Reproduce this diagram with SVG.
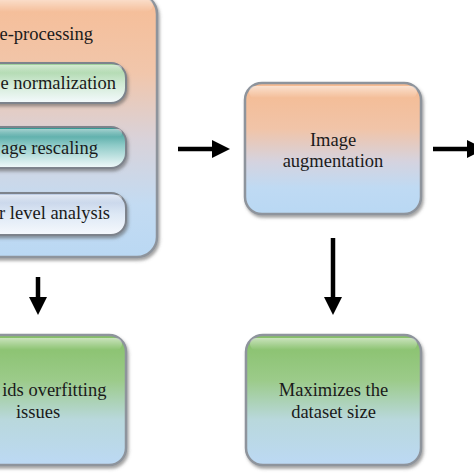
<svg xmlns="http://www.w3.org/2000/svg" width="474" height="474" viewBox="0 0 474 474">
<style>
  text{font-family:"Liberation Serif","Times New Roman",serif;font-size:18.5px;fill:#1a1a1a}
  .box{stroke:#8e949c;stroke-width:2.5}
  .pill{stroke:#7d838c;stroke-width:2}
  .gloss{fill:url(#gloss)}
  .conn{stroke:#000;stroke-width:4.5;fill:none}
</style>
<defs>
  <linearGradient id="gOrange" x1="0" y1="0" x2="0" y2="1">
    <stop offset="0" stop-color="#f5bb92"/>
    <stop offset="0.35" stop-color="#f1c4a8"/>
    <stop offset="0.6" stop-color="#d5d3df"/>
    <stop offset="0.8" stop-color="#bfdaf3"/>
    <stop offset="1" stop-color="#b9d8f3"/>
  </linearGradient>
  <linearGradient id="gBig" x1="0" y1="0" x2="0" y2="1">
    <stop offset="0" stop-color="#f6bd96"/>
    <stop offset="0.3" stop-color="#f1c6ab"/>
    <stop offset="0.55" stop-color="#d9d2d9"/>
    <stop offset="0.8" stop-color="#c3dbf2"/>
    <stop offset="1" stop-color="#bad8f3"/>
  </linearGradient>
  <linearGradient id="gGreen" x1="0" y1="0" x2="0" y2="1">
    <stop offset="0" stop-color="#86c068"/>
    <stop offset="0.35" stop-color="#9ccb8a"/>
    <stop offset="0.65" stop-color="#b9d8dc"/>
    <stop offset="1" stop-color="#bcd9f4"/>
  </linearGradient>
  <linearGradient id="gPillGreen" x1="0" y1="0" x2="0" y2="1">
    <stop offset="0" stop-color="#9ccf98"/>
    <stop offset="0.5" stop-color="#cfe9d3"/>
    <stop offset="1" stop-color="#f4fafd"/>
  </linearGradient>
  <linearGradient id="gPillTeal" x1="0" y1="0" x2="0" y2="1">
    <stop offset="0" stop-color="#2f9590"/>
    <stop offset="0.45" stop-color="#8fcbc8"/>
    <stop offset="1" stop-color="#f2fafb"/>
  </linearGradient>
  <linearGradient id="gPillBlue" x1="0" y1="0" x2="0" y2="1">
    <stop offset="0" stop-color="#bccbe4"/>
    <stop offset="0.5" stop-color="#dde8f5"/>
    <stop offset="1" stop-color="#f6f9fd"/>
  </linearGradient>
  <linearGradient id="gloss" x1="0" y1="0" x2="0" y2="1">
    <stop offset="0" stop-color="#ffffff" stop-opacity="0.55"/>
    <stop offset="1" stop-color="#ffffff" stop-opacity="0"/>
  </linearGradient>
  <filter id="shadow" x="-10%" y="-10%" width="130%" height="130%">
    <feDropShadow dx="1.5" dy="2.5" stdDeviation="1.8" flood-color="#555" flood-opacity="0.55"/>
  </filter>
  <marker id="head" viewBox="0 0 10 10" refX="0" refY="5" markerWidth="4" markerHeight="4" orient="auto" markerUnits="strokeWidth">
    <path d="M0,0 L10,5 L0,10 Z" fill="#000"/>
  </marker>
</defs>

<g id="node-preprocessing">
  <rect class="box" x="-80" y="-6" width="237" height="263" rx="20" fill="url(#gBig)" filter="url(#shadow)"/>
  <rect class="gloss" x="-76" y="-2" width="229" height="14" rx="8"/>
  <text x="93" y="39.5" text-anchor="end">e-processing</text>
</g>

<g id="node-normalization">
  <rect class="pill" x="-50" y="63" width="176" height="40" rx="15" fill="url(#gPillGreen)" filter="url(#shadow)"/>
  <rect class="gloss" x="-46" y="65" width="168" height="8" rx="4"/>
  <text x="116" y="89" text-anchor="end">e normalization</text>
</g>

<g id="node-rescaling">
  <rect class="pill" x="-50" y="127" width="176" height="41" rx="15" fill="url(#gPillTeal)" filter="url(#shadow)"/>
  <rect class="gloss" x="-46" y="129" width="168" height="8" rx="4"/>
  <text x="98" y="154" text-anchor="end">age rescaling</text>
</g>

<g id="node-level-analysis">
  <rect class="pill" x="-50" y="193" width="176" height="42" rx="15" fill="url(#gPillBlue)" filter="url(#shadow)"/>
  <rect class="gloss" x="-46" y="195" width="168" height="8" rx="4"/>
  <text x="110" y="219" text-anchor="end">r level analysis</text>
</g>

<g id="node-augmentation">
  <rect class="box" x="245" y="83" width="176" height="131" rx="17" fill="url(#gOrange)" filter="url(#shadow)"/>
  <rect class="gloss" x="249" y="86" width="168" height="12" rx="6"/>
  <text x="333" y="146" text-anchor="middle">Image</text>
  <text x="333" y="167" text-anchor="middle">augmentation</text>
</g>

<g id="node-overfitting">
  <rect class="box" x="-50" y="335" width="176" height="130" rx="17" fill="url(#gGreen)" filter="url(#shadow)"/>
  <rect class="gloss" x="-46" y="338" width="168" height="12" rx="6"/>
  <text x="106.5" y="396" text-anchor="end">ids overfitting</text>
  <text x="38" y="418" text-anchor="middle">issues</text>
</g>

<g id="node-dataset-size">
  <rect class="box" x="246" y="335" width="175" height="130" rx="17" fill="url(#gGreen)" filter="url(#shadow)"/>
  <rect class="gloss" x="250" y="338" width="167" height="12" rx="6"/>
  <text x="333.5" y="396" text-anchor="middle">Maximizes the</text>
  <text x="333.5" y="418" text-anchor="middle">dataset size</text>
</g>

<g id="connectors">
  <line class="conn" x1="178" y1="149" x2="212" y2="149" marker-end="url(#head)"/>
  <line class="conn" x1="433" y1="149" x2="467" y2="149" marker-end="url(#head)"/>
  <line class="conn" x1="38" y1="277" x2="38" y2="297" marker-end="url(#head)"/>
  <line class="conn" x1="333" y1="238" x2="333" y2="297" marker-end="url(#head)"/>
</g>
</svg>
